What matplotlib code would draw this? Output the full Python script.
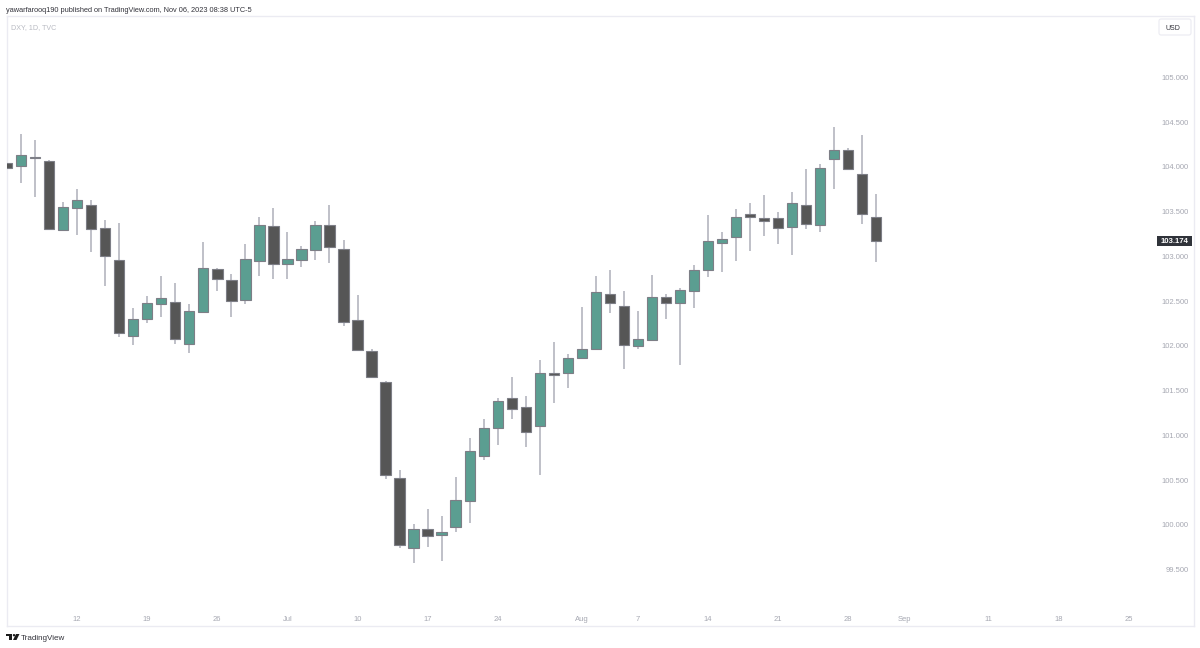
import matplotlib.pyplot as plt
from matplotlib.patches import Polygon, Circle, FancyBboxPatch, Rectangle

# DXY daily candles
opens = [104.044, 104.010, 104.111, 104.066, 103.295, 103.541, 103.574, 103.317, 102.959, 102.110,
         102.300, 102.468, 102.490, 102.020, 102.378, 102.859, 102.736, 102.512, 102.948, 103.340,
         102.915, 102.959, 103.071, 103.351, 103.082, 102.289, 101.942, 101.596, 100.522, 99.740,
         99.952, 99.885, 99.975, 100.265, 100.768, 101.081, 101.417, 101.316, 101.104, 101.696,
         101.696, 101.864, 101.964, 102.579, 102.445, 101.998, 102.065, 102.546, 102.479, 102.613,
         102.848, 103.150, 103.217, 103.474, 103.429, 103.429, 103.328, 103.574, 103.351, 104.089,
         104.189, 103.921, 103.440]
highs = [104.402, 104.368, 104.301, 104.077, 103.608, 103.753, 103.630, 103.407, 103.373, 102.423,
         102.557, 102.781, 102.702, 102.468, 103.161, 102.870, 102.803, 103.138, 103.440, 103.541,
         103.272, 103.116, 103.395, 103.574, 103.183, 102.568, 101.964, 101.607, 100.612, 100.008,
         100.176, 100.098, 100.533, 100.970, 101.182, 101.417, 101.651, 101.439, 101.842, 102.043,
         101.909, 102.434, 102.781, 102.848, 102.613, 102.389, 102.792, 102.579, 102.646, 102.904,
         103.463, 103.272, 103.530, 103.597, 103.686, 103.496, 103.720, 103.977, 104.033, 104.446,
         104.212, 104.357, 103.697]
lows = [103.932, 103.820, 103.664, 103.306, 103.295, 103.239, 103.049, 102.669, 102.099, 102.009,
        102.255, 102.322, 102.020, 101.920, 102.378, 102.613, 102.322, 102.468, 102.781, 102.747,
        102.747, 102.881, 102.959, 102.926, 102.222, 101.953, 101.651, 100.511, 99.740, 99.572,
        99.751, 99.595, 99.919, 100.019, 100.724, 100.891, 101.182, 100.869, 100.556, 101.361,
        101.529, 101.853, 101.964, 102.367, 101.741, 101.964, 102.065, 102.300, 101.786, 102.423,
        102.769, 102.825, 102.948, 103.060, 103.228, 103.138, 103.015, 103.306, 103.272, 103.753,
        103.977, 103.362, 102.937]
closes = [103.988, 104.133, 104.100, 103.306, 103.552, 103.630, 103.306, 103.004, 102.143, 102.300,
          102.479, 102.535, 102.076, 102.389, 102.870, 102.747, 102.501, 102.971, 103.351, 102.915,
          102.971, 103.082, 103.351, 103.105, 102.266, 101.953, 101.651, 100.556, 99.773, 99.952,
          99.874, 99.919, 100.277, 100.824, 101.081, 101.383, 101.294, 101.037, 101.696, 101.674,
          101.864, 101.964, 102.602, 102.479, 102.009, 102.076, 102.546, 102.479, 102.624, 102.848,
          103.172, 103.194, 103.440, 103.440, 103.395, 103.317, 103.597, 103.362, 103.988, 104.189,
          103.977, 103.474, 103.174]

price_ticks = [105.0, 104.5, 104.0, 103.5, 103.0, 102.5, 102.0, 101.5, 101.0, 100.5, 100.0, 99.5]
date_pos = [5, 10, 15, 20, 25, 30, 35, 41, 45, 50, 55, 60, 64, 70, 75, 80]
date_labels = ['12', '19', '26', 'Jul', '10', '17', '24', 'Aug', '7', '14', '21', '28', 'Sep', '11', '18', '25']

up_color = '#5b9e91'
down_color = '#565656'
edge_color = '#7d7e86'
wick_color = '#adafb9'
frame_color = '#ebebf2'
label_color = '#a6a8b2'
font = 'Liberation Sans'

fig = plt.figure(figsize=(12, 6.48), dpi=100)

# chart area in figure fractions
ax = fig.add_axes([6.5 / 1200, 1 - 626 / 648, (1194 - 6.5) / 1200, (626 - 16) / 648])
ax.set_xlim(-0.036, 84.66)
ax.set_ylim(98.868, 105.687)
ax.set_xticks([])
ax.set_yticks([])
for s in ax.spines.values():
    s.set_color(frame_color)
    s.set_linewidth(1)

xs = list(range(len(opens)))
ax.vlines(xs, lows, highs, color=wick_color, linewidth=1.1, zorder=2)
for i in xs:
    c = up_color if closes[i] >= opens[i] else down_color
    ax.bar(i, abs(closes[i] - opens[i]), bottom=min(opens[i], closes[i]), width=0.74,
           color=c, edgecolor=edge_color, linewidth=0.8, zorder=3)

# price scale labels sit inside the frame
trans = ax.get_yaxis_transform()
for p in price_ticks:
    ax.text(0.9956, p, '%.3f' % p, transform=trans, ha='right', va='center_baseline',
            fontsize=5.5, color=label_color, family=font)

# last price tag
last = closes[-1]
ax.add_patch(Rectangle((0.9688, last - 0.056), 0.0295, 0.112, transform=trans,
                       facecolor='#30333a', edgecolor='none', zorder=5))
ax.text(0.9956, last, '%.3f' % last, transform=trans, ha='right', va='center_baseline', fontsize=5.6,
        fontweight='bold', color='white', family=font, zorder=6)

for pos, lab in zip(date_pos, date_labels):
    ax.text(pos, 98.95, lab, ha='center', va='center_baseline', fontsize=5.5, color=label_color, family=font)

# overlay in pixel coordinates for the header, footer and logo
ov = fig.add_axes([0, 0, 1, 1], facecolor='none')
ov.set_xlim(0, 1200)
ov.set_ylim(648, 0)
ov.axis('off')

ov.text(6, 9.5, 'yawarfarooq190 published on TradingView.com, Nov 06, 2023 08:38 UTC-5',
        ha='left', va='center_baseline', fontsize=5.27, color='#33333b', family=font)
ov.text(11, 26.5, 'DXY, 1D, TVC', ha='left', va='center_baseline', fontsize=5.1, color='#b8bac2', family=font)

ov.add_patch(FancyBboxPatch((1161, 21), 28, 12, boxstyle='round,pad=2,rounding_size=2',
                            facecolor='white', edgecolor=frame_color, linewidth=0.8))
ov.text(1165, 28, 'USD', ha='left', va='center_baseline', fontsize=5.0, color='#33333b', family=font)

# TradingView logo
ov.add_patch(Rectangle((6, 634), 6.3, 2.3, color='#1c1c1c', linewidth=0))
ov.add_patch(Rectangle((9, 634), 3.3, 6, color='#1c1c1c', linewidth=0))
ov.add_patch(Circle((14, 635.2), 1.2, color='#1c1c1c', linewidth=0))
ov.add_patch(Polygon([(16, 634), (19.5, 634), (16.5, 640), (13, 640)], color='#1c1c1c', linewidth=0))
ov.text(21, 637.5, 'TradingView', ha='left', va='center_baseline', fontsize=5.8, color='#33333b', family=font)

fig.savefig('out.png', dpi=100)
